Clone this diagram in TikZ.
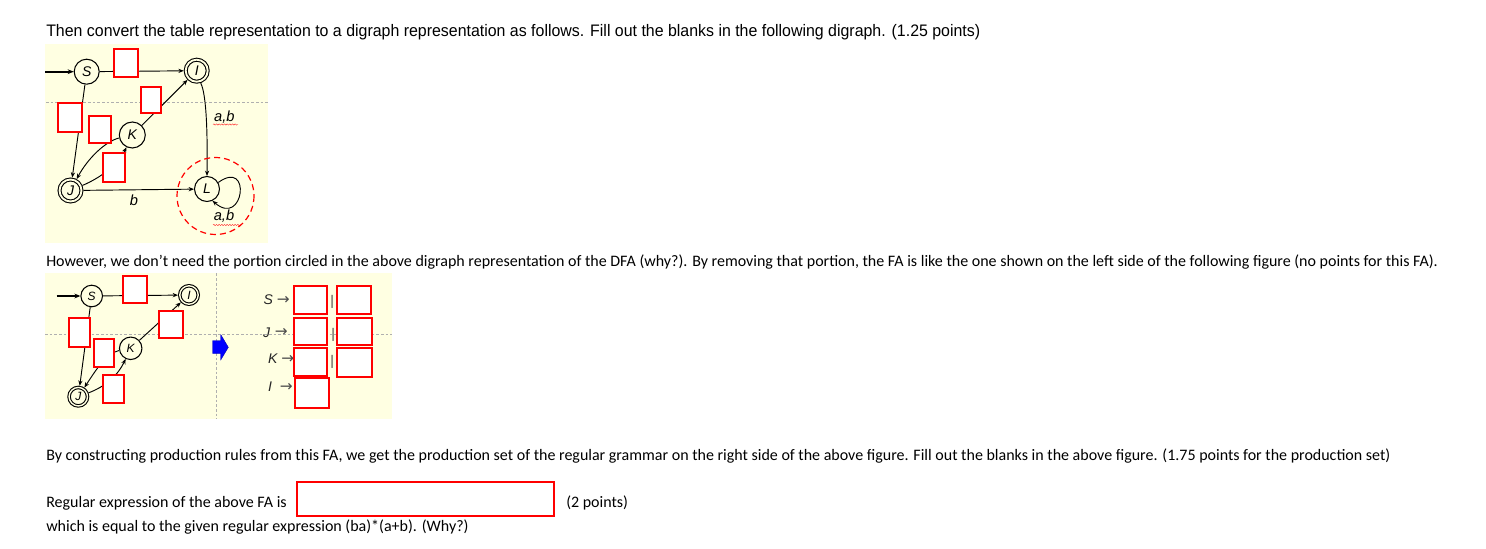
\documentclass[tikz,border=0pt]{standalone}
\usepackage{fontspec}
\setmainfont{Carlito}
\newfontfamily\arial{Liberation Sans}
\newfontfamily\dejavu{DejaVu Sans}
\usetikzlibrary{arrows.meta,decorations.pathmorphing}
\definecolor{bgy}{RGB}{255,255,226}
\definecolor{rbox}{RGB}{255,0,0}
\definecolor{dgray}{RGB}{175,175,175}
\definecolor{fatblue}{RGB}{0,0,255}
\begin{document}
\begin{tikzpicture}[x=0.75pt,y=-0.75pt,
  st/.style={circle, draw=black, line width=0.8pt, fill=bgy, inner sep=0pt,
    font=\arial\itshape\fontsize{10.5}{11}\selectfont},
  stb/.style={st, font=\arial\itshape\fontsize{9}{10}\selectfont},
  acc/.style={double=bgy, double distance=#1, outer sep=0.8pt+0.5*#1},
  arr/.style={-{Stealth[length=4pt,width=3.2pt]}, line width=0.7pt, black},
  initarr/.style={-{Stealth[length=4.5pt,width=3.6pt]}, line width=1.3pt, black},
  redbox/.style={draw=rbox, line width=1.5pt, fill=white},
  grid/.style={dgray, line width=0.5pt, dash pattern=on 2pt off 1.5pt},
  lbl/.style={font=\arial\itshape\fontsize{11}{12}\selectfont, inner sep=0pt},
  glbl/.style={font=\arial\itshape\fontsize{10.5}{11}\selectfont, inner sep=0pt, anchor=base, text=black!85},
  garr/.style={font=\dejavu\fontsize{11.5}{12}\selectfont, inner sep=0pt, anchor=base west, text=black!70},
  gbar/.style={font=\arial\fontsize{10.5}{11}\selectfont, inner sep=0pt, anchor=base, text=black!70},
  para/.style={anchor=base west, inner sep=0pt, font=\fontsize{12}{14}\selectfont},
  spell/.style={rbox!80, line width=0.35pt, decorate, decoration={snake, amplitude=0.5pt, segment length=2pt}}
]
\useasboundingbox[fill=white] (0,0) rectangle (1486,549);

% ---------- heading ----------
\node[anchor=base west, inner sep=0pt] (t1) at (46,36.3)
  {\resizebox{700.5pt}{\height}{\arial\fontsize{12.5}{14}\selectfont Then convert the table representation to a digraph representation as follows. Fill out the blanks in the following digraph. (1.25 points)}};

% ---------- diagram 1 ----------
\fill[bgy] (45,44) rectangle (268,243);
\draw[grid] (46,102.7) -- (268,102.7);

\node[st, minimum size=25*0.75pt] (aS) at (86.7,71.7) {S};
\node[st, acc=1.4pt, minimum size=16.5pt] (aI) at (196.7,70.7) {I};
\node[st, minimum size=26*0.75pt] (aK) at (132.3,135) {K};
\node[st, acc=1.4pt, minimum size=16.5pt] (aJ) at (70.5,190.5) {J};
\node[st, minimum size=25*0.75pt] (aL) at (207,189) {L};

\coordinate (aStart) at (45,71.7);
\draw[initarr] (aStart) -- (aS);
\draw[arr] (aS) -- (aI);
\draw[arr] (aS) -- (aJ);
\draw[arr] (aK) -- (aI);
\draw[arr] (aK) .. controls (106,141) and (88,158) .. (aJ);
\draw[arr] (aJ) .. controls (100,178) and (118,165) .. (aK);
\draw[arr] (aJ) -- (aL);
\draw[arr] (aI.-72) .. controls (207,95) and (207.5,140) .. (aL.north);
\draw[arr] (aL.30) .. controls (252,158) and (244,228) .. (aL.-65);

\node[lbl] (ab1) at (224.3,117) {a,b};
\draw[spell] (213,124.5) -- (238,124.5);
\node[lbl] (bl) at (134,200) {b};
\node[lbl] (ab2) at (224,216.5) {a,b};
\draw[spell] (213,225) -- (240,225);

\draw[rbox, line width=0.9pt, dash pattern=on 4.5pt off 3pt] (215.5,196) circle[radius=38.5];

\draw[redbox] (114,49) rectangle (138,77);
\draw[redbox] (140.7,86.7) rectangle (160.7,112.7);
\draw[redbox] (58,103) rectangle (82,132);
\draw[redbox] (89,116) rectangle (111,143);
\draw[redbox] (103,153) rectangle (125,182);

% ---------- paragraph 2 ----------
\node[para] (t2) at (46,266.7) {However, we don’t need the portion circled in the above digraph representation of the DFA (why?). By removing that portion, the FA is like the one shown on the left side of the following figure (no points for this FA).};

% ---------- diagram 2 ----------
\fill[bgy] (45,273.5) rectangle (391.5,418.5);
\draw[grid] (45,334.3) -- (391.5,334.3);
\draw[grid] (216.7,273.5) -- (216.7,418.5);

\node[stb, minimum size=21.6*0.75pt] (bS) at (91.7,296) {S};
\node[stb, acc=1.05pt, minimum size=13.85pt] (bI) at (189,295) {I};
\node[stb, minimum size=22.5*0.75pt] (bK) at (130.7,348.3) {K};
\node[stb, acc=1.05pt, minimum size=13.85pt] (bJ) at (78.3,396.7) {J};

\coordinate (bStart) at (56.7,296);
\draw[initarr] (bStart) -- (bS);
\draw[arr] (bS) -- (bI);
\draw[arr] (bS) -- (bJ);
\draw[arr] (bK) -- (bI);
\draw[arr] (bK) .. controls (106,353) and (94,373) .. (bJ);
\draw[arr] (bJ) .. controls (104,387) and (117,377) .. (bK);

\draw[redbox] (123.3,275.7) rectangle (146.7,303.3);
\draw[redbox] (159.3,310.7) rectangle (183.3,338.3);
\draw[redbox] (69,317.7) rectangle (90,346.7);
\draw[redbox] (94.3,339) rectangle (114,366.7);
\draw[redbox] (102.7,375) rectangle (124,403.3);

% fat arrow
\fill[fatblue, draw=blue!70!black, line width=0.3pt]
  (212.7,340.5) -- (220.7,340.5) -- (220.7,334.5) -- (228.3,347.3) -- (220.7,360) -- (220.7,353.5) -- (212.7,353.5) -- cycle;

% grammar
\node[glbl] (gS) at (268.3,304.5) {S};
\node[garr] (gaS) at (276.5,304) {→};
\node[glbl] (gJ) at (266.7,337) {J};
\node[garr] (gaJ) at (274.5,336.5) {→};
\node[glbl] (gK) at (272.7,363.5) {K};
\node[garr] (gaK) at (281,363) {→};
\node[glbl] (gI) at (270,391.5) {I};
\node[garr] (gaI) at (279.5,391) {→};

\draw[redbox] (294.3,285.7) rectangle (327.3,314);
\draw[redbox] (337.3,285.7) rectangle (370.7,314);
\draw[redbox] (294.3,317.7) rectangle (327.3,345);
\draw[redbox] (336.7,317.7) rectangle (371.7,345);
\draw[redbox] (294.3,348.3) rectangle (327.3,376);
\draw[redbox] (337.3,348.3) rectangle (372.3,377.3);
\draw[redbox] (295,378.3) rectangle (329,407.7);

\node[gbar] (bar1) at (332.3,305.5) {|};
\node[gbar] (bar2) at (333.3,338) {|};
\node[gbar] (bar3) at (332.3,365) {|};

% ---------- paragraph 3 ----------
\node[para] (t3) at (46,460.7) {By constructing production rules from this FA, we get the production set of the regular grammar on the right side of the above figure. Fill out the blanks in the above figure. (1.75 points for the production set)};

\node[para] (t4) at (46,507.5) {Regular expression of the above FA is};
\draw[redbox] (297,482.3) rectangle (554,515.5);
\node[para] (t5) at (566,507.5) {(2 points)};
\node[para] (t6) at (46,531.7) {which is equal to the given regular expression (ba)*(a+b). (Why?)};

\end{tikzpicture}
\end{document}
